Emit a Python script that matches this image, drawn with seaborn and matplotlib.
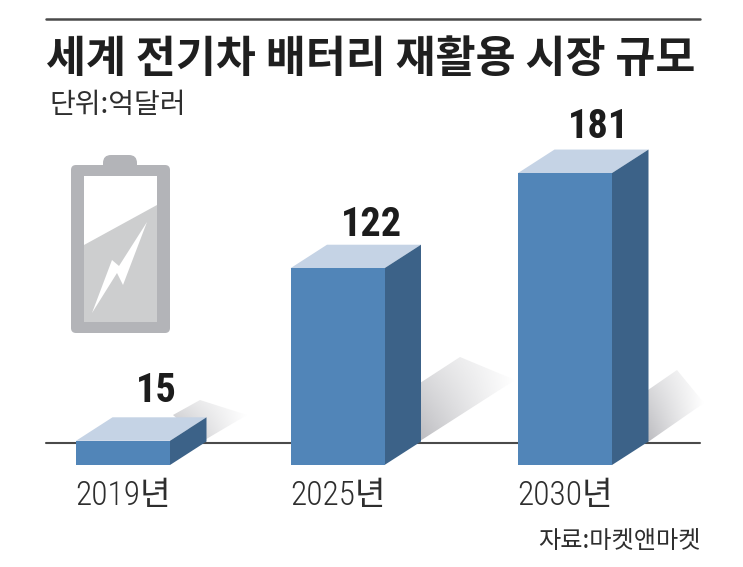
import numpy as np
import pandas as pd
import matplotlib
matplotlib.use("Agg")
import matplotlib.pyplot as plt
import seaborn as sns
from matplotlib.colors import LinearSegmentedColormap
from matplotlib.patches import Polygon, FancyBboxPatch

# ===================== DATA =====================
years = ["2019년", "2025년", "2030년"]
values = [15, 122, 181]
title = "세계 전기차 배터리 재활용 시장 규모"
unit_text = "단위:억달러"
source_text = "자료:마켓앤마켓"

# ===================== LAYOUT =====================
W, H = 743, 567
bar_centers = [123, 337.5, 565]
bar_w = 94
y_zero = 465       # pixel row of the bars' front bottom
px_per_unit = 1.613
depth_x, depth_y = 36.5, 23.5
label_gaps = [15, 9, 12]   # pixels between the box top and its value label

FRONT, SIDE, TOP = "#5185b8", "#3c6288", "#c5d3e5"
LINE = "#4a4a4a"
TEXT = "#2e2e2e"
BATTERY, BATTERY_FILL = "#b3b4b8", "#cdcecf"

sns.set_theme(style="white")
condensed = ["Roboto Condensed", "Noto Sans CJK KR", "DejaVu Sans"]
plt.rcParams["font.family"] = ["Noto Sans CJK KR", "DejaVu Sans"]


def yv(py):
    return (y_zero - py) / px_per_unit


def rounded(x0, y0, x1, y1, r, color, z=2):
    # box given in pixel rows, rounded with r pixels
    ax.add_patch(FancyBboxPatch((x0, yv(y1)), x1 - x0, (y1 - y0) / px_per_unit,
                                boxstyle=f"round,pad=0,rounding_size={r}",
                                mutation_aspect=1 / px_per_unit,
                                fc=color, ec="none", zorder=z))


fig = plt.figure(figsize=(W / 100, H / 100), dpi=100)
ax = fig.add_axes([0, (H - y_zero) / H, 1, y_zero / H])
ax.patch.set_alpha(0)

df = pd.DataFrame({"pos": bar_centers, "value": values})
sns.barplot(data=df, x="pos", y="value", native_scale=True, width=bar_w / 214.5,
            color=FRONT, saturation=1, linewidth=0, ax=ax, zorder=4)

# ===================== SHADOWS =====================
shadow_cmap = LinearSegmentedColormap.from_list("sh", ["#ffffff", "#bcbcc0"])
shadows = [
    [(203, 441), (173, 415), (200, 400), (247, 415)],
    [(420, 441), (420, 383), (460, 357), (515, 380)],
    [(648, 442), (648, 390), (677, 370), (704, 403)],
]
for pts in shadows:
    xs = [p[0] for p in pts]
    ys = [yv(p[1]) for p in pts]
    gx, gy = np.meshgrid(np.linspace(1, 0, 80), np.linspace(0, 1, 80))
    im = ax.imshow(gx * (0.45 + 0.55 * gy), extent=(min(xs), max(xs), min(ys), max(ys)),
                   origin="upper", cmap=shadow_cmap, vmin=0, vmax=1, aspect="auto", zorder=1)
    im.set_clip_path(Polygon(list(zip(xs, ys)), transform=ax.transData))

# baseline and top rule
ax.plot([46, 700], [yv(443), yv(443)], color=LINE, lw=1.5, zorder=2, clip_on=False)
ax.plot([46, 700], [yv(19), yv(19)], color=LINE, lw=1.8, zorder=2, clip_on=False)

# ===================== 3D FACES =====================
dy = depth_y / px_per_unit
for bar, v, gap in zip(ax.patches, values, label_gaps):
    x0 = bar.get_x()
    x1 = x0 + bar.get_width()
    ax.add_patch(Polygon([(x0, v), (x1, v), (x1 + depth_x, v + dy), (x0 + depth_x, v + dy)],
                         closed=True, fc=TOP, ec="none", zorder=3))
    ax.add_patch(Polygon([(x1, 0), (x1, v), (x1 + depth_x, v + dy), (x1 + depth_x, dy)],
                         closed=True, fc=SIDE, ec="none", zorder=3))
    ax.text((x0 + x1) / 2 + 33.5, v + dy + gap / px_per_unit, str(v), ha="center", va="baseline",
            fontsize=29, fontweight="bold", family=condensed, color="#1c1c1c", zorder=5)

# ===================== BATTERY ICON =====================
rounded(103, 155, 137, 175, 8, BATTERY)
rounded(71, 165, 170, 333, 5, BATTERY)
rounded(84, 176, 157, 322, 0.1, "white")
fill_pts = [(84, 245), (157, 205), (157, 322), (84, 322)]
ax.add_patch(Polygon([(x, yv(y)) for x, y in fill_pts], fc=BATTERY_FILL, ec="none", zorder=2))
bolt_pts = [(147, 222), (123, 285), (117, 273), (92, 313), (112, 260), (119, 266)]
ax.add_patch(Polygon([(x, yv(y)) for x, y in bolt_pts], fc="white", ec="none", zorder=3))

# ===================== AXES =====================
ax.set_xlim(0, W)
ax.set_ylim(0, yv(0))
ax.set_xticks(bar_centers, years)
ax.set_yticks([])
ax.set_xlabel("")
ax.set_ylabel("")
ax.tick_params(axis="x", length=0, pad=10.5)
for lab in ax.get_xticklabels():
    lab.set_fontsize(24)
    lab.set_family(condensed)
    lab.set_fontweight("light")
    lab.set_color(TEXT)
sns.despine(ax=ax, left=True, bottom=True)

# ===================== TEXT =====================
fig.text(46 / W, 1 - 72 / H, title, fontsize=31.3, fontweight="bold", color="#1f1f1f", va="baseline")
fig.text(49 / W, 1 - 113 / H, unit_text, fontsize=20.2, color=TEXT, va="baseline")
fig.text(701 / W, 1 - 548 / H, source_text, fontsize=17.4, color=TEXT, ha="right", va="baseline")

fig.savefig("out.png", dpi=100)
